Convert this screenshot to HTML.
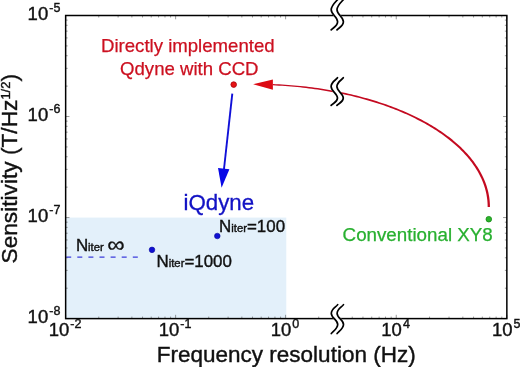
<!DOCTYPE html><html><head><meta charset="utf-8"><title>Sensitivity vs frequency resolution</title>
<style>html,body{margin:0;padding:0;background:#fff;overflow:hidden}svg{display:block}text{font-family:"Liberation Sans",sans-serif}</style></head><body>
<svg width="520" height="367" viewBox="0 0 520 367">
<rect x="0" y="0" width="520" height="367" fill="#ffffff"/>
<rect x="65.65" y="217.57" width="220.65" height="101.03" fill="#e3f0fa"/>
<g><line x1="65.65" y1="318.60" x2="69.45" y2="318.60" stroke="#555" stroke-width="0.6"/><line x1="506.85" y1="318.60" x2="503.05" y2="318.60" stroke="#555" stroke-width="0.6"/><line x1="65.65" y1="288.19" x2="67.65" y2="288.19" stroke="#555" stroke-width="0.6"/><line x1="506.85" y1="288.19" x2="504.85" y2="288.19" stroke="#555" stroke-width="0.6"/><line x1="65.65" y1="270.39" x2="67.65" y2="270.39" stroke="#555" stroke-width="0.6"/><line x1="506.85" y1="270.39" x2="504.85" y2="270.39" stroke="#555" stroke-width="0.6"/><line x1="65.65" y1="257.77" x2="67.65" y2="257.77" stroke="#555" stroke-width="0.6"/><line x1="506.85" y1="257.77" x2="504.85" y2="257.77" stroke="#555" stroke-width="0.6"/><line x1="65.65" y1="247.98" x2="67.65" y2="247.98" stroke="#555" stroke-width="0.6"/><line x1="506.85" y1="247.98" x2="504.85" y2="247.98" stroke="#555" stroke-width="0.6"/><line x1="65.65" y1="239.98" x2="67.65" y2="239.98" stroke="#555" stroke-width="0.6"/><line x1="506.85" y1="239.98" x2="504.85" y2="239.98" stroke="#555" stroke-width="0.6"/><line x1="65.65" y1="233.22" x2="67.65" y2="233.22" stroke="#555" stroke-width="0.6"/><line x1="506.85" y1="233.22" x2="504.85" y2="233.22" stroke="#555" stroke-width="0.6"/><line x1="65.65" y1="227.36" x2="67.65" y2="227.36" stroke="#555" stroke-width="0.6"/><line x1="506.85" y1="227.36" x2="504.85" y2="227.36" stroke="#555" stroke-width="0.6"/><line x1="65.65" y1="222.19" x2="67.65" y2="222.19" stroke="#555" stroke-width="0.6"/><line x1="506.85" y1="222.19" x2="504.85" y2="222.19" stroke="#555" stroke-width="0.6"/><line x1="65.65" y1="217.57" x2="69.45" y2="217.57" stroke="#555" stroke-width="0.6"/><line x1="506.85" y1="217.57" x2="503.05" y2="217.57" stroke="#555" stroke-width="0.6"/><line x1="65.65" y1="187.15" x2="67.65" y2="187.15" stroke="#555" stroke-width="0.6"/><line x1="506.85" y1="187.15" x2="504.85" y2="187.15" stroke="#555" stroke-width="0.6"/><line x1="65.65" y1="169.36" x2="67.65" y2="169.36" stroke="#555" stroke-width="0.6"/><line x1="506.85" y1="169.36" x2="504.85" y2="169.36" stroke="#555" stroke-width="0.6"/><line x1="65.65" y1="156.74" x2="67.65" y2="156.74" stroke="#555" stroke-width="0.6"/><line x1="506.85" y1="156.74" x2="504.85" y2="156.74" stroke="#555" stroke-width="0.6"/><line x1="65.65" y1="146.95" x2="67.65" y2="146.95" stroke="#555" stroke-width="0.6"/><line x1="506.85" y1="146.95" x2="504.85" y2="146.95" stroke="#555" stroke-width="0.6"/><line x1="65.65" y1="138.95" x2="67.65" y2="138.95" stroke="#555" stroke-width="0.6"/><line x1="506.85" y1="138.95" x2="504.85" y2="138.95" stroke="#555" stroke-width="0.6"/><line x1="65.65" y1="132.18" x2="67.65" y2="132.18" stroke="#555" stroke-width="0.6"/><line x1="506.85" y1="132.18" x2="504.85" y2="132.18" stroke="#555" stroke-width="0.6"/><line x1="65.65" y1="126.32" x2="67.65" y2="126.32" stroke="#555" stroke-width="0.6"/><line x1="506.85" y1="126.32" x2="504.85" y2="126.32" stroke="#555" stroke-width="0.6"/><line x1="65.65" y1="121.16" x2="67.65" y2="121.16" stroke="#555" stroke-width="0.6"/><line x1="506.85" y1="121.16" x2="504.85" y2="121.16" stroke="#555" stroke-width="0.6"/><line x1="65.65" y1="116.53" x2="69.45" y2="116.53" stroke="#555" stroke-width="0.6"/><line x1="506.85" y1="116.53" x2="503.05" y2="116.53" stroke="#555" stroke-width="0.6"/><line x1="65.65" y1="86.12" x2="67.65" y2="86.12" stroke="#555" stroke-width="0.6"/><line x1="506.85" y1="86.12" x2="504.85" y2="86.12" stroke="#555" stroke-width="0.6"/><line x1="65.65" y1="68.33" x2="67.65" y2="68.33" stroke="#555" stroke-width="0.6"/><line x1="506.85" y1="68.33" x2="504.85" y2="68.33" stroke="#555" stroke-width="0.6"/><line x1="65.65" y1="55.71" x2="67.65" y2="55.71" stroke="#555" stroke-width="0.6"/><line x1="506.85" y1="55.71" x2="504.85" y2="55.71" stroke="#555" stroke-width="0.6"/><line x1="65.65" y1="45.91" x2="67.65" y2="45.91" stroke="#555" stroke-width="0.6"/><line x1="506.85" y1="45.91" x2="504.85" y2="45.91" stroke="#555" stroke-width="0.6"/><line x1="65.65" y1="37.91" x2="67.65" y2="37.91" stroke="#555" stroke-width="0.6"/><line x1="506.85" y1="37.91" x2="504.85" y2="37.91" stroke="#555" stroke-width="0.6"/><line x1="65.65" y1="31.15" x2="67.65" y2="31.15" stroke="#555" stroke-width="0.6"/><line x1="506.85" y1="31.15" x2="504.85" y2="31.15" stroke="#555" stroke-width="0.6"/><line x1="65.65" y1="25.29" x2="67.65" y2="25.29" stroke="#555" stroke-width="0.6"/><line x1="506.85" y1="25.29" x2="504.85" y2="25.29" stroke="#555" stroke-width="0.6"/><line x1="65.65" y1="20.12" x2="67.65" y2="20.12" stroke="#555" stroke-width="0.6"/><line x1="506.85" y1="20.12" x2="504.85" y2="20.12" stroke="#555" stroke-width="0.6"/><line x1="65.65" y1="15.50" x2="69.45" y2="15.50" stroke="#555" stroke-width="0.6"/><line x1="506.85" y1="15.50" x2="503.05" y2="15.50" stroke="#555" stroke-width="0.6"/><line x1="65.65" y1="318.60" x2="65.65" y2="314.80" stroke="#555" stroke-width="0.6"/><line x1="65.65" y1="15.50" x2="65.65" y2="19.30" stroke="#555" stroke-width="0.6"/><line x1="98.76" y1="318.60" x2="98.76" y2="316.60" stroke="#555" stroke-width="0.6"/><line x1="98.76" y1="15.50" x2="98.76" y2="17.50" stroke="#555" stroke-width="0.6"/><line x1="118.12" y1="318.60" x2="118.12" y2="316.60" stroke="#555" stroke-width="0.6"/><line x1="118.12" y1="15.50" x2="118.12" y2="17.50" stroke="#555" stroke-width="0.6"/><line x1="131.86" y1="318.60" x2="131.86" y2="316.60" stroke="#555" stroke-width="0.6"/><line x1="131.86" y1="15.50" x2="131.86" y2="17.50" stroke="#555" stroke-width="0.6"/><line x1="142.52" y1="318.60" x2="142.52" y2="316.60" stroke="#555" stroke-width="0.6"/><line x1="142.52" y1="15.50" x2="142.52" y2="17.50" stroke="#555" stroke-width="0.6"/><line x1="151.23" y1="318.60" x2="151.23" y2="316.60" stroke="#555" stroke-width="0.6"/><line x1="151.23" y1="15.50" x2="151.23" y2="17.50" stroke="#555" stroke-width="0.6"/><line x1="158.59" y1="318.60" x2="158.59" y2="316.60" stroke="#555" stroke-width="0.6"/><line x1="158.59" y1="15.50" x2="158.59" y2="17.50" stroke="#555" stroke-width="0.6"/><line x1="164.97" y1="318.60" x2="164.97" y2="316.60" stroke="#555" stroke-width="0.6"/><line x1="164.97" y1="15.50" x2="164.97" y2="17.50" stroke="#555" stroke-width="0.6"/><line x1="170.59" y1="318.60" x2="170.59" y2="316.60" stroke="#555" stroke-width="0.6"/><line x1="170.59" y1="15.50" x2="170.59" y2="17.50" stroke="#555" stroke-width="0.6"/><line x1="175.62" y1="318.60" x2="175.62" y2="314.80" stroke="#555" stroke-width="0.6"/><line x1="175.62" y1="15.50" x2="175.62" y2="19.30" stroke="#555" stroke-width="0.6"/><line x1="208.73" y1="318.60" x2="208.73" y2="316.60" stroke="#555" stroke-width="0.6"/><line x1="208.73" y1="15.50" x2="208.73" y2="17.50" stroke="#555" stroke-width="0.6"/><line x1="228.10" y1="318.60" x2="228.10" y2="316.60" stroke="#555" stroke-width="0.6"/><line x1="228.10" y1="15.50" x2="228.10" y2="17.50" stroke="#555" stroke-width="0.6"/><line x1="241.84" y1="318.60" x2="241.84" y2="316.60" stroke="#555" stroke-width="0.6"/><line x1="241.84" y1="15.50" x2="241.84" y2="17.50" stroke="#555" stroke-width="0.6"/><line x1="252.49" y1="318.60" x2="252.49" y2="316.60" stroke="#555" stroke-width="0.6"/><line x1="252.49" y1="15.50" x2="252.49" y2="17.50" stroke="#555" stroke-width="0.6"/><line x1="261.20" y1="318.60" x2="261.20" y2="316.60" stroke="#555" stroke-width="0.6"/><line x1="261.20" y1="15.50" x2="261.20" y2="17.50" stroke="#555" stroke-width="0.6"/><line x1="268.56" y1="318.60" x2="268.56" y2="316.60" stroke="#555" stroke-width="0.6"/><line x1="268.56" y1="15.50" x2="268.56" y2="17.50" stroke="#555" stroke-width="0.6"/><line x1="274.94" y1="318.60" x2="274.94" y2="316.60" stroke="#555" stroke-width="0.6"/><line x1="274.94" y1="15.50" x2="274.94" y2="17.50" stroke="#555" stroke-width="0.6"/><line x1="280.57" y1="318.60" x2="280.57" y2="316.60" stroke="#555" stroke-width="0.6"/><line x1="280.57" y1="15.50" x2="280.57" y2="17.50" stroke="#555" stroke-width="0.6"/><line x1="285.60" y1="318.60" x2="285.60" y2="314.80" stroke="#555" stroke-width="0.6"/><line x1="285.60" y1="15.50" x2="285.60" y2="19.30" stroke="#555" stroke-width="0.6"/><line x1="318.71" y1="318.60" x2="318.71" y2="316.60" stroke="#555" stroke-width="0.6"/><line x1="318.71" y1="15.50" x2="318.71" y2="17.50" stroke="#555" stroke-width="0.6"/><line x1="352.24" y1="318.60" x2="352.24" y2="316.60" stroke="#555" stroke-width="0.6"/><line x1="352.24" y1="15.50" x2="352.24" y2="17.50" stroke="#555" stroke-width="0.6"/><line x1="362.96" y1="318.60" x2="362.96" y2="316.60" stroke="#555" stroke-width="0.6"/><line x1="362.96" y1="15.50" x2="362.96" y2="17.50" stroke="#555" stroke-width="0.6"/><line x1="371.71" y1="318.60" x2="371.71" y2="316.60" stroke="#555" stroke-width="0.6"/><line x1="371.71" y1="15.50" x2="371.71" y2="17.50" stroke="#555" stroke-width="0.6"/><line x1="379.12" y1="318.60" x2="379.12" y2="316.60" stroke="#555" stroke-width="0.6"/><line x1="379.12" y1="15.50" x2="379.12" y2="17.50" stroke="#555" stroke-width="0.6"/><line x1="385.53" y1="318.60" x2="385.53" y2="316.60" stroke="#555" stroke-width="0.6"/><line x1="385.53" y1="15.50" x2="385.53" y2="17.50" stroke="#555" stroke-width="0.6"/><line x1="391.19" y1="318.60" x2="391.19" y2="316.60" stroke="#555" stroke-width="0.6"/><line x1="391.19" y1="15.50" x2="391.19" y2="17.50" stroke="#555" stroke-width="0.6"/><line x1="396.25" y1="318.60" x2="396.25" y2="314.80" stroke="#555" stroke-width="0.6"/><line x1="396.25" y1="15.50" x2="396.25" y2="19.30" stroke="#555" stroke-width="0.6"/><line x1="429.54" y1="318.60" x2="429.54" y2="316.60" stroke="#555" stroke-width="0.6"/><line x1="429.54" y1="15.50" x2="429.54" y2="17.50" stroke="#555" stroke-width="0.6"/><line x1="449.02" y1="318.60" x2="449.02" y2="316.60" stroke="#555" stroke-width="0.6"/><line x1="449.02" y1="15.50" x2="449.02" y2="17.50" stroke="#555" stroke-width="0.6"/><line x1="462.84" y1="318.60" x2="462.84" y2="316.60" stroke="#555" stroke-width="0.6"/><line x1="462.84" y1="15.50" x2="462.84" y2="17.50" stroke="#555" stroke-width="0.6"/><line x1="473.56" y1="318.60" x2="473.56" y2="316.60" stroke="#555" stroke-width="0.6"/><line x1="473.56" y1="15.50" x2="473.56" y2="17.50" stroke="#555" stroke-width="0.6"/><line x1="482.31" y1="318.60" x2="482.31" y2="316.60" stroke="#555" stroke-width="0.6"/><line x1="482.31" y1="15.50" x2="482.31" y2="17.50" stroke="#555" stroke-width="0.6"/><line x1="489.72" y1="318.60" x2="489.72" y2="316.60" stroke="#555" stroke-width="0.6"/><line x1="489.72" y1="15.50" x2="489.72" y2="17.50" stroke="#555" stroke-width="0.6"/><line x1="496.13" y1="318.60" x2="496.13" y2="316.60" stroke="#555" stroke-width="0.6"/><line x1="496.13" y1="15.50" x2="496.13" y2="17.50" stroke="#555" stroke-width="0.6"/><line x1="501.79" y1="318.60" x2="501.79" y2="316.60" stroke="#555" stroke-width="0.6"/><line x1="501.79" y1="15.50" x2="501.79" y2="17.50" stroke="#555" stroke-width="0.6"/><line x1="506.85" y1="318.60" x2="506.85" y2="314.80" stroke="#555" stroke-width="0.6"/><line x1="506.85" y1="15.50" x2="506.85" y2="19.30" stroke="#555" stroke-width="0.6"/></g>
<line x1="66.2" y1="257" x2="138.3" y2="257" stroke="#3c3cdc" stroke-width="1.25" stroke-dasharray="5.0 6.1"/>
<rect x="65.65" y="15.5" width="441.20" height="303.10" fill="none" stroke="#000" stroke-width="1.5"/>
<path d="M 489.95,207.00 L 489.93,205.38 L 489.87,203.77 L 489.77,202.16 L 489.64,200.55 L 489.46,198.95 L 489.25,197.36 L 489.00,195.77 L 488.71,194.19 L 488.38,192.61 L 488.02,191.04 L 487.62,189.47 L 487.18,187.91 L 486.71,186.36 L 486.20,184.81 L 485.66,183.27 L 485.08,181.74 L 484.46,180.22 L 483.81,178.70 L 483.13,177.19 L 482.40,175.68 L 481.65,174.19 L 480.86,172.70 L 480.04,171.22 L 479.18,169.75 L 478.29,168.28 L 477.37,166.83 L 476.41,165.38 L 475.42,163.94 L 474.40,162.51 L 473.35,161.09 L 472.26,159.67 L 471.14,158.27 L 469.99,156.87 L 468.81,155.49 L 467.60,154.11 L 466.36,152.74 L 465.08,151.39 L 463.78,150.04 L 462.44,148.70 L 461.08,147.37 L 459.68,146.05 L 458.26,144.75 L 456.81,143.45 L 455.32,142.16 L 453.81,140.88 L 452.27,139.62 L 450.70,138.36 L 449.10,137.12 L 447.48,135.88 L 445.82,134.66 L 444.14,133.45 L 442.43,132.25 L 440.69,131.06 L 438.93,129.89 L 437.14,128.72 L 435.32,127.57 L 433.48,126.42 L 431.60,125.29 L 429.71,124.18 L 427.79,123.07 L 425.84,121.98 L 423.86,120.90 L 421.86,119.83 L 419.84,118.78 L 417.79,117.74 L 415.72,116.71 L 413.62,115.69 L 411.50,114.69 L 409.35,113.70 L 407.18,112.73 L 404.99,111.76 L 402.77,110.82 L 400.53,109.88 L 398.27,108.96 L 395.98,108.06 L 393.67,107.17 L 391.34,106.29 L 388.99,105.43 L 386.61,104.58 L 384.22,103.75 L 381.80,102.93 L 379.36,102.13 L 376.90,101.34 L 374.41,100.57 L 371.91,99.81 L 369.39,99.07 L 366.84,98.34 L 364.28,97.63 L 361.70,96.94 L 359.09,96.26 L 356.47,95.60 L 353.83,94.96 L 351.17,94.33 L 348.49,93.71 L 345.79,93.12 L 343.07,92.54 L 340.34,91.98 L 337.58,91.44 L 334.81,90.91 L 332.02,90.40 L 329.22,89.91 L 326.39,89.43 L 323.55,88.98 L 320.70,88.54 L 317.82,88.12 L 314.93,87.71 L 312.02,87.33 L 309.10,86.96 L 306.16,86.62 L 303.21,86.29 L 300.24,85.98 L 297.26,85.69 L 294.26,85.42 L 291.24,85.16 L 288.22,84.93 L 285.17,84.72 L 282.12,84.52 L 279.05,84.35 L 275.96,84.19 L 272.86,84.06 L 272.81,85.37 L 275.90,85.51 L 278.97,85.67 L 282.03,85.86 L 285.08,86.06 L 288.11,86.28 L 291.13,86.53 L 294.14,86.79 L 297.13,87.07 L 300.10,87.37 L 303.06,87.69 L 306.00,88.03 L 308.93,88.38 L 311.84,88.76 L 314.73,89.15 L 317.61,89.56 L 320.48,89.99 L 323.32,90.44 L 326.15,90.90 L 328.96,91.38 L 331.75,91.88 L 334.53,92.40 L 337.29,92.93 L 340.03,93.49 L 342.75,94.05 L 345.46,94.64 L 348.14,95.24 L 350.81,95.86 L 353.46,96.50 L 356.08,97.15 L 358.69,97.82 L 361.28,98.50 L 363.85,99.20 L 366.40,99.92 L 368.93,100.65 L 371.44,101.39 L 373.92,102.16 L 376.39,102.93 L 378.83,103.73 L 381.26,104.53 L 383.66,105.36 L 386.04,106.19 L 388.40,107.04 L 390.74,107.91 L 393.05,108.79 L 395.34,109.69 L 397.61,110.59 L 399.85,111.52 L 402.08,112.45 L 404.27,113.40 L 406.45,114.37 L 408.60,115.34 L 410.73,116.33 L 412.83,117.34 L 414.91,118.35 L 416.96,119.38 L 418.99,120.42 L 420.99,121.48 L 422.97,122.54 L 424.92,123.62 L 426.85,124.71 L 428.75,125.82 L 430.62,126.93 L 432.47,128.06 L 434.29,129.19 L 436.09,130.34 L 437.86,131.50 L 439.60,132.68 L 441.31,133.86 L 443.00,135.05 L 444.65,136.26 L 446.28,137.47 L 447.88,138.70 L 449.46,139.93 L 451.00,141.18 L 452.51,142.43 L 454.00,143.70 L 455.46,144.97 L 456.88,146.26 L 458.28,147.55 L 459.65,148.86 L 460.99,150.17 L 462.30,151.49 L 463.57,152.82 L 464.82,154.16 L 466.03,155.51 L 467.22,156.86 L 468.37,158.23 L 469.49,159.60 L 470.58,160.98 L 471.64,162.37 L 472.66,163.77 L 473.66,165.17 L 474.62,166.58 L 475.55,168.00 L 476.44,169.42 L 477.31,170.86 L 478.14,172.30 L 478.93,173.74 L 479.69,175.19 L 480.42,176.65 L 481.12,178.12 L 481.78,179.59 L 482.41,181.07 L 483.00,182.55 L 483.56,184.04 L 484.08,185.53 L 484.57,187.03 L 485.02,188.54 L 485.44,190.05 L 485.82,191.57 L 486.16,193.09 L 486.48,194.62 L 486.75,196.15 L 486.99,197.68 L 487.19,199.23 L 487.36,200.77 L 487.48,202.32 L 487.58,203.88 L 487.63,205.44 L 487.65,207.00 Z" fill="#c40a20"/>
<polygon points="253.1,84.3 272.9,79.5 272.9,89.7" fill="#dc0a14"/>
<path d="M 341.90,-2.00 C 340.30,0.40 334.10,5.00 334.10,9.80 C 334.10,14.60 340.50,17.00 340.50,21.80 C 340.50,26.12 335.90,27.70 334.10,29.90" fill="none" stroke="#fff" stroke-width="6.2"/>
<path d="M 339.00,-2.00 C 337.40,0.40 331.20,5.00 331.20,9.80 C 331.20,14.60 337.60,17.00 337.60,21.80 C 337.60,26.12 333.00,27.70 331.20,29.90" fill="none" stroke="#000" stroke-width="1.7" stroke-linecap="round" stroke-linejoin="round"/>
<path d="M 344.80,-2.00 C 343.20,0.40 337.00,5.00 337.00,9.80 C 337.00,14.60 343.40,17.00 343.40,21.80 C 343.40,26.12 338.80,27.70 337.00,29.90" fill="none" stroke="#000" stroke-width="1.7" stroke-linecap="round" stroke-linejoin="round"/>
<path d="M 340.60,304.60 C 339.00,307.00 334.20,309.00 334.20,313.40 C 334.20,317.80 340.60,320.00 340.60,324.40 C 340.60,328.36 336.00,331.30 334.20,333.50" fill="none" stroke="#fff" stroke-width="6.2"/>
<path d="M 337.70,304.60 C 336.10,307.00 331.30,309.00 331.30,313.40 C 331.30,317.80 337.70,320.00 337.70,324.40 C 337.70,328.36 333.10,331.30 331.30,333.50" fill="none" stroke="#000" stroke-width="1.7" stroke-linecap="round" stroke-linejoin="round"/>
<path d="M 343.50,304.60 C 341.90,307.00 337.10,309.00 337.10,313.40 C 337.10,317.80 343.50,320.00 343.50,324.40 C 343.50,328.36 338.90,331.30 337.10,333.50" fill="none" stroke="#000" stroke-width="1.7" stroke-linecap="round" stroke-linejoin="round"/>
<path d="M 340.40,77.70 C 338.80,80.10 334.00,82.04 334.00,86.60 C 334.00,91.16 340.40,93.44 340.40,98.00 C 340.40,102.10 335.80,103.20 334.00,105.40" fill="none" stroke="#fff" stroke-width="6.2"/>
<path d="M 337.50,77.70 C 335.90,80.10 331.10,82.04 331.10,86.60 C 331.10,91.16 337.50,93.44 337.50,98.00 C 337.50,102.10 332.90,103.20 331.10,105.40" fill="none" stroke="#000" stroke-width="1.7" stroke-linecap="round" stroke-linejoin="round"/>
<path d="M 343.30,77.70 C 341.70,80.10 336.90,82.04 336.90,86.60 C 336.90,91.16 343.30,93.44 343.30,98.00 C 343.30,102.10 338.70,103.20 336.90,105.40" fill="none" stroke="#000" stroke-width="1.7" stroke-linecap="round" stroke-linejoin="round"/>
<line x1="232.3" y1="93.7" x2="224.0" y2="169" stroke="#1010d8" stroke-width="1.9"/>
<polygon points="221.6,187.7 218.0,168.0 229.4,169.3" fill="#0808e6"/>
<circle cx="233.7" cy="84.6" r="2.8" fill="#e61414" stroke="#a8000c" stroke-width="0.8"/>
<circle cx="217.3" cy="236.0" r="2.8" fill="#1010d2" stroke="#0808a0" stroke-width="0.6"/>
<circle cx="152.0" cy="249.85" r="2.8" fill="#1010d2" stroke="#0808a0" stroke-width="0.6"/>
<circle cx="488.8" cy="219.2" r="2.8" fill="#2cb42c" stroke="#188a18" stroke-width="0.8"/>
<text transform="translate(187.8,52.2) scale(1,1.0)" font-size="18.6" fill="#cc1020" stroke="#cc1020" stroke-width="0.25" text-anchor="middle">Directly implemented</text>
<text transform="translate(189.3,74.5) scale(1,1.0)" font-size="18.6" fill="#cc1020" stroke="#cc1020" stroke-width="0.25" text-anchor="middle">Qdyne with CCD</text>
<text transform="translate(183.5,209.6) scale(1,1.0)" font-size="22.3" fill="#1212c4" stroke="#1212c4" stroke-width="0.3" text-anchor="start">iQdyne</text>
<text transform="translate(342.6,241.2) scale(1,1.0)" font-size="18.75" fill="#28b030" stroke="#28b030" stroke-width="0.25" text-anchor="start">Conventional XY8</text>
<text transform="translate(219.1,232.1) scale(1,1.0)" font-size="16.9" fill="#111" stroke="#111" stroke-width="0.4" text-anchor="start">N<tspan font-size="11.3">iter</tspan><tspan font-size="16.9">=100</tspan></text>
<text transform="translate(156.5,267.2) scale(1,1.0)" font-size="16.9" fill="#111" stroke="#111" stroke-width="0.4" text-anchor="start">N<tspan font-size="11.3">iter</tspan><tspan font-size="16.9">=1000</tspan></text>
<text transform="translate(75.9,251.2) scale(1,1.0)" font-size="16.9" fill="#111" stroke="#111" stroke-width="0.4" text-anchor="start">N<tspan font-size="11.3">iter</tspan><tspan font-size="16.9"></tspan></text>
<text x="107.2" y="252.4" font-size="22" fill="#111" stroke="#111" stroke-width="0.3" font-family="DejaVu Sans, Liberation Sans, sans-serif" textLength="17.4" lengthAdjust="spacingAndGlyphs">∞</text>
<text transform="translate(48.65,336.40) scale(1,1.0)" font-size="18.5" fill="#111" stroke="#111" stroke-width="0.4" text-anchor="start">10<tspan font-size="12.5" dx="1.1" dy="-8.20">-2</tspan></text>
<text transform="translate(158.63,336.40) scale(1,1.0)" font-size="18.5" fill="#111" stroke="#111" stroke-width="0.4" text-anchor="start">10<tspan font-size="12.5" dx="1.1" dy="-8.20">-1</tspan></text>
<text transform="translate(270.69,336.40) scale(1,1.0)" font-size="18.5" fill="#111" stroke="#111" stroke-width="0.4" text-anchor="start">10<tspan font-size="12.5" dx="1.1" dy="-8.20">0</tspan></text>
<text transform="translate(381.33,336.40) scale(1,1.0)" font-size="18.5" fill="#111" stroke="#111" stroke-width="0.4" text-anchor="start">10<tspan font-size="12.5" dx="1.1" dy="-8.20">4</tspan></text>
<text transform="translate(491.94,336.40) scale(1,1.0)" font-size="18.5" fill="#111" stroke="#111" stroke-width="0.4" text-anchor="start">10<tspan font-size="12.5" dx="1.1" dy="-8.20">5</tspan></text>
<text transform="translate(27.60,20.30) scale(1,1.0)" font-size="18.5" fill="#111" stroke="#111" stroke-width="0.4" text-anchor="start">10<tspan font-size="12.5" dx="1.1" dy="-8.20">-5</tspan></text>
<text transform="translate(27.60,121.33) scale(1,1.0)" font-size="18.5" fill="#111" stroke="#111" stroke-width="0.4" text-anchor="start">10<tspan font-size="12.5" dx="1.1" dy="-8.20">-6</tspan></text>
<text transform="translate(27.60,222.37) scale(1,1.0)" font-size="18.5" fill="#111" stroke="#111" stroke-width="0.4" text-anchor="start">10<tspan font-size="12.5" dx="1.1" dy="-8.20">-7</tspan></text>
<text transform="translate(27.60,323.40) scale(1,1.0)" font-size="18.5" fill="#111" stroke="#111" stroke-width="0.4" text-anchor="start">10<tspan font-size="12.5" dx="1.1" dy="-8.20">-8</tspan></text>
<text transform="translate(156.8,361.7) scale(1,1.0)" font-size="22.5" fill="#111" stroke="#111" stroke-width="0.4" text-anchor="start">Frequency resolution (Hz)</text>
<text transform="translate(17.2,263.5) rotate(-90) scale(1,1.0)" font-size="22.7" fill="#111" stroke="#111" stroke-width="0.4" text-anchor="start">Sensitivity (T/Hz<tspan font-size="13" dy="-7.40">1/2</tspan><tspan font-size="22.7" dy="7.40">)</tspan></text>
</svg></body></html>
